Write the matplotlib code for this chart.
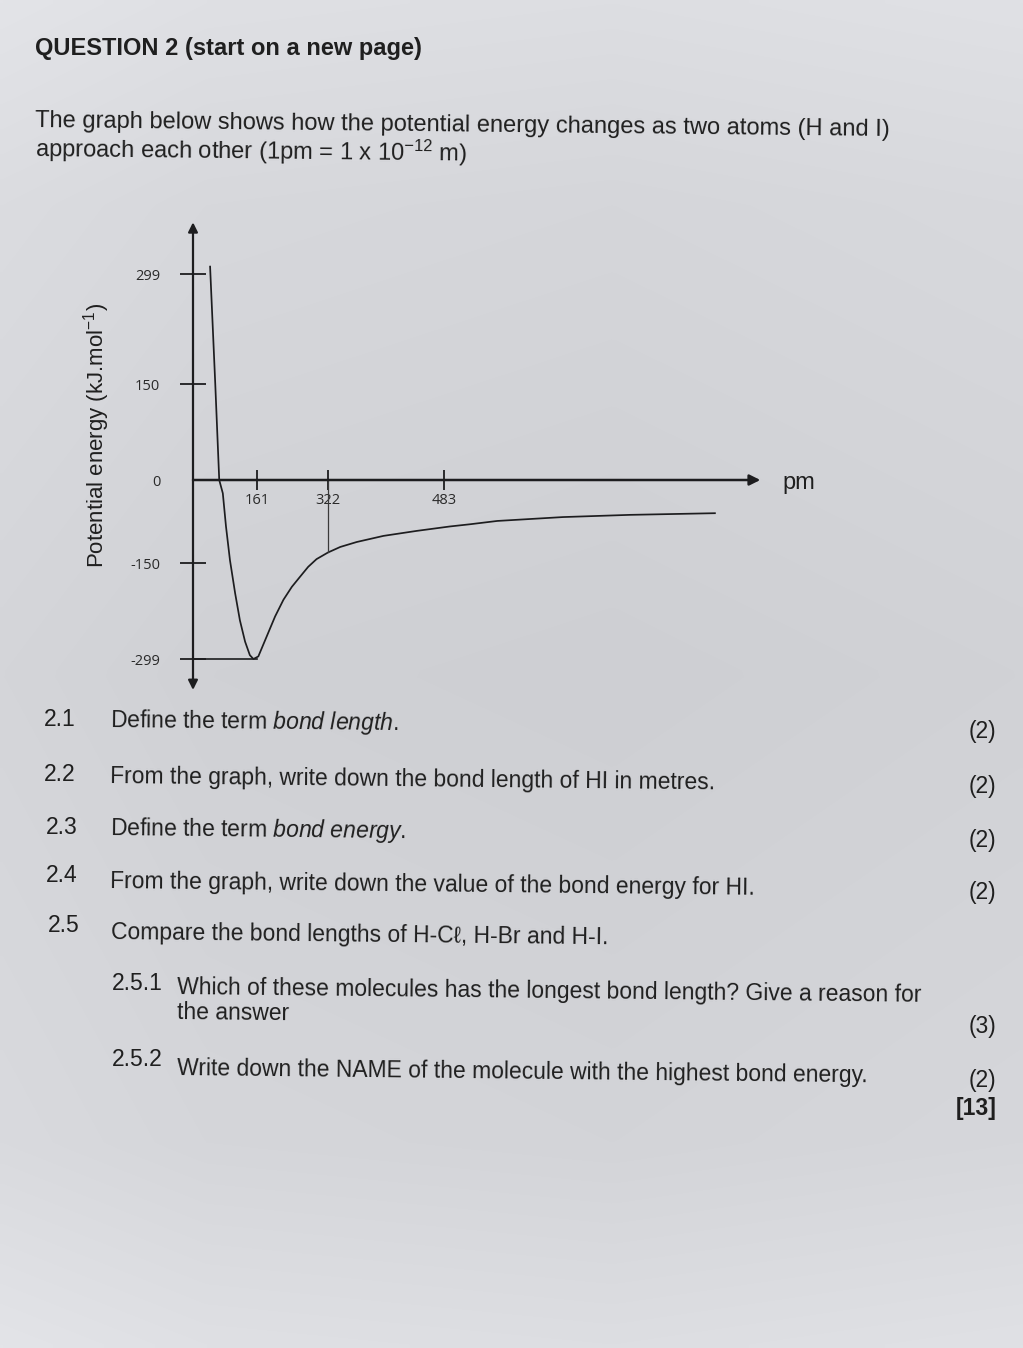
import numpy as np
import matplotlib
matplotlib.use("Agg")
import matplotlib.pyplot as plt

plt.rcParams['font.family'] = ['Liberation Sans', 'DejaVu Sans']
plt.rcParams['mathtext.fontset'] = 'custom'
plt.rcParams['mathtext.rm'] = 'Liberation Sans'
plt.rcParams['mathtext.it'] = 'Liberation Sans:italic'
plt.rcParams['mathtext.bf'] = 'Liberation Sans:bold'

# ---------------- data ----------------
distance_pm = [43, 56, 66, 75, 83, 93, 106, 118, 131, 143, 152, 164, 183, 202,
               221, 240, 259, 277, 296, 322, 339, 362, 399, 445, 491, 519, 557,
               648, 741, 859]
energy_kj = [309, 150, 0, -24, -84, -145, -197, -239, -272, -293, -299, -295, -264, -233,
             -207, -187, -171, -156, -143, -131, -121, -112, -101, -92, -84, -80, -74,
             -67, -63, -60]
x_ticks = [161, 322, 483]
x_tick_labels = ['161', '322', '483']
y_ticks = [299, 150, 0, -150, -299]
y_tick_labels = ['299', '150', '0', '-150', '-299']
bond_length = 161
bond_energy = -299
drop_x = 322
y_axis_range = (-347, 369)
x_axis_end = 922

W, H = 1023, 1348
fig = plt.figure(figsize=(W / 100, H / 100), dpi=100)

# paper background (photo shading)
bg = fig.add_axes([0, 0, 1, 1], zorder=-5)
rows = np.linspace(0, 1, 200)
prof = np.interp(rows, [0, 0.15, 0.5, 0.85, 1.0], [224, 216, 209, 214, 224])
cols = np.linspace(0, 1, 200)
hprof = np.interp(cols, [0, 0.2, 0.6, 1.0], [4, 0, -2, 1])
img = (prof[:, None] + hprof[None, :])
rgb = np.stack([img - 1, img, img + 4], axis=-1) / 255.0
bg.imshow(np.clip(rgb, 0, 1), aspect='auto', extent=[0, 1, 0, 1], interpolation='bilinear')
bg.axis('off')

# ---------------- chart ----------------
ax = fig.add_axes([170 / W, 1 - 700 / H, 670 / W, 490 / H])
ax.patch.set_alpha(0)

XD = np.array([-200.0, 0, 161, 322, 483, 1400])
XP = np.array([113.5, 193, 257, 328, 444, 1104.7])
YD = np.array([-600.0, -299, -150, 0, 150, 299, 600])
YP = np.array([853.0, 659, 563, 480, 384, 274, 51.8])


def xf(v):
    return np.interp(v, XD, XP)


def xi(p):
    return np.interp(p, XP, XD)


def yf(v):
    return -np.interp(v, YD, YP)


def yi(s):
    return np.interp(-np.asarray(s), YP[::-1], YD[::-1])


ax.set_xscale('function', functions=(xf, xi))
ax.set_yscale('function', functions=(yf, yi))
ax.set_xlim(float(xi(170)), float(xi(840)))
ax.set_ylim(float(yi(-700)), float(yi(-210)))

for s in ['top', 'right']:
    ax.spines[s].set_visible(False)
ax.spines['left'].set_position(('data', 0))
ax.spines['bottom'].set_position(('data', 0))
ax.spines['left'].set_visible(False)
ax.spines['bottom'].set_visible(False)

ink = '#1d1d1f'
ax.set_xticks(x_ticks)
ax.set_xticklabels(x_tick_labels)
ax.set_yticks(y_ticks)
ax.set_yticklabels(y_tick_labels)
ax.tick_params(axis='y', direction='inout', length=19, width=1.3, pad=14,
               labelsize=10.5, color=ink, labelcolor='#2a2a2a')
ax.tick_params(axis='x', direction='inout', length=15, width=1.3, pad=1.5,
               labelsize=10.5, color=ink, labelcolor='#2a2a2a')
for lbl in ax.get_xticklabels() + ax.get_yticklabels():
    lbl.set_fontfamily(['Open Sans', 'DejaVu Sans'])
for t, v in zip(ax.yaxis.get_major_ticks(), y_ticks):
    if v == 0:
        t.tick1line.set_visible(False)

# axes with arrows
ax.annotate('', xy=(0, y_axis_range[1]), xytext=(0, y_axis_range[0]),
            arrowprops=dict(arrowstyle='<|-|>', color=ink, lw=1.6,
                            mutation_scale=14, shrinkA=0, shrinkB=0))
ax.annotate('', xy=(x_axis_end, 0), xytext=(0, 0),
            arrowprops=dict(arrowstyle='-|>', color=ink, lw=1.8,
                            mutation_scale=16, shrinkA=0, shrinkB=0))

# curve and guide lines
ax.plot(distance_pm, energy_kj, color=ink, lw=1.25, solid_joinstyle='round')
ax.plot([0, bond_length], [bond_energy, bond_energy], color=ink, lw=1.2)
ax.plot([drop_x, drop_x], [0, energy_kj[distance_pm.index(drop_x)]], color='#3a3a3a', lw=0.9)


# ---------------- page text ----------------
def T(x, y, s, size=16.5, weight='normal', ha='left', rot=-0.6, **kw):
    fig.text(x / W, 1 - y / H, s, fontsize=size, fontweight=weight, ha=ha, va='center',
             color='#1f1f1f', rotation=rot, rotation_mode='anchor', **kw)


fig.text(97 / W, 1 - 435 / H, r'Potential energy (kJ.mol$^{\mathregular{-1}}$)',
         rotation=90, fontsize=16, ha='center', va='center', color='#1f1f1f')
fig.text(799 / W, 1 - 483 / H, 'pm', fontsize=17, ha='center', va='center', color='#1f1f1f')

T(35, 48, 'QUESTION 2 (start on a new page)', size=17, weight='bold', rot=0)
T(35, 137, 'The graph below shows how the potential energy changes as two atoms (H and I)\n'
           r'approach each other (1pm = 1 x 10$^{\mathregular{-12}}$ m)', size=17, linespacing=1.12)

T(44, 720, '2.1', rot=0)
T(110, 721, r'Define the term $\mathit{bond\ length}$.')
T(44, 775, '2.2', rot=0)
T(110, 777, 'From the graph, write down the bond length of HI in metres.')
T(46, 828, '2.3', rot=0)
T(110, 829, r'Define the term $\mathit{bond\ energy}$.')
T(46, 876, '2.4', rot=0)
T(110, 882, 'From the graph, write down the value of the bond energy for HI.')
T(48, 926, '2.5', rot=0)
T(111, 933, 'Compare the bond lengths of H-C\u2113, H-Br and H-I.')
T(112, 984, '2.5.1', rot=0)
T(177, 1000, 'Which of these molecules has the longest bond length? Give a reason for\n'
             'the answer', linespacing=1.08)
T(112, 1060, '2.5.2', rot=0)
T(177, 1069, 'Write down the NAME of the molecule with the highest bond energy.')

for y, m in [(731, '(2)'), (786, '(2)'), (840, '(2)'), (893, '(2)'), (1027, '(3)'), (1080, '(2)')]:
    T(982, y, m, ha='center', rot=0)
T(976, 1108, '[13]', weight='bold', ha='center', rot=0)

fig.savefig('out.png', dpi=100)
